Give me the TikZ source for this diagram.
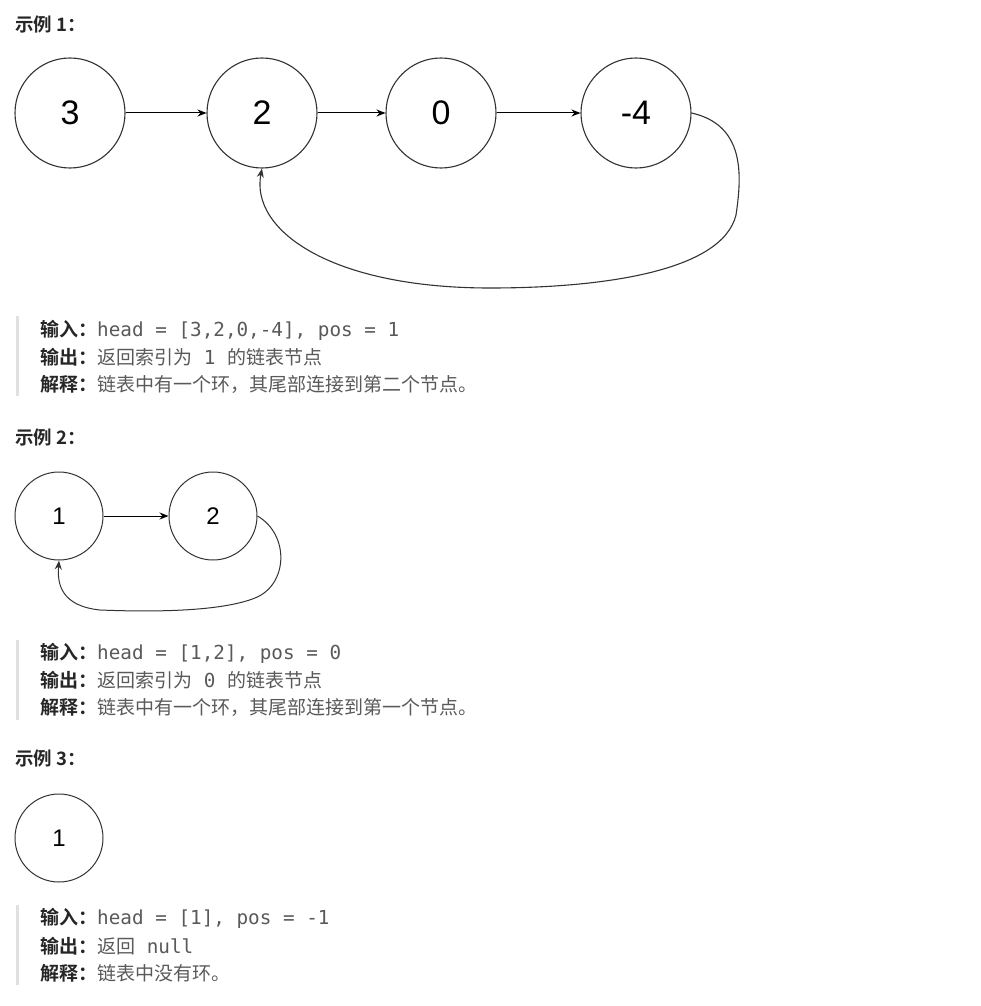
\documentclass[tikz,border=0pt]{standalone}
\usepackage{fontspec}
\setmainfont{Liberation Sans}
\newfontfamily\cjk{Noto Sans CJK SC}
\newfontfamily\cjkb{Noto Sans CJK SC Bold}
\newfontfamily\mono{DejaVu Sans Mono}
\usetikzlibrary{arrows.meta}
\definecolor{txt}{HTML}{595959}
\definecolor{lbl}{HTML}{262626}
\definecolor{bar}{HTML}{E0E0E0}
\definecolor{ln}{HTML}{333333}
\begin{document}
\begin{tikzpicture}[x=1pt,y=-1pt,
  big/.style={circle,draw=ln,line width=1.1pt,minimum size=110pt,inner sep=0pt,font=\fontsize{34}{36}\selectfont},
  small/.style={circle,draw=ln,line width=1pt,minimum size=88pt,inner sep=0pt,font=\fontsize{24}{26}\selectfont},
  arr/.style={-{Stealth[length=9pt,width=7pt]},line width=1pt,draw=black},
  head/.style={anchor=west,inner sep=0pt,font=\cjkb\fontsize{18.5}{20}\selectfont,text=lbl},
  body/.style={anchor=west,inner sep=0pt,text=txt,font=\fontsize{19}{21}\selectfont}]
\useasboundingbox (0,0) rectangle (980,1006);
\newcommand{\lbl}[1]{{\cjkb\color{lbl}#1}}
\newcommand{\mn}[1]{{\mono\fontsize{19.3}{21}\selectfont #1}}
% example 1
\node[head] (h1) at (15,24) {示例 1：};
\node[big] (a) at (70,113) {3};
\node[big] (b) at (262,113) {2};
\node[big] (c) at (441,113) {0};
\node[big] (d) at (636,113) {-4};
\draw[arr] (a) -- (b);
\draw[arr] (b) -- (c);
\draw[arr] (c) -- (d);
\draw[arr,line width=1.1pt,draw=ln] (d.east) .. controls (745,125) and (742,175) .. (736,215)
  .. controls (722,272) and (600,288) .. (490,288)
  .. controls (330,288) and (250,230) .. (b.south);
\fill[bar] (16,316) rectangle (19,396);
\node[body] (t11) at (40,330) {\lbl{输入：}\mn{head = [3,2,0,-4], pos = 1}};
\node[body] (t12) at (40,357) {\lbl{输出：}{\cjk 返回索引为}\mn{\ 1\ }{\cjk 的链表节点}};
\node[body] (t13) at (40,384) {\lbl{解释：}{\cjk 链表中有一个环，其尾部连接到第二个节点。}};
% example 2
\node[head] (h2) at (15,437) {示例 2：};
\node[small] (p) at (59,516) {1};
\node[small] (q) at (213,516) {2};
\draw[arr] (p) -- (q);
\draw[arr,draw=ln] (q.east) .. controls (290,535) and (288,585) .. (255,598)
  .. controls (220,612) and (150,612) .. (100,610)
  .. controls (62,606) and (57,585) .. (p.south);
\fill[bar] (16,640) rectangle (19,720);
\node[body] (t21) at (40,653) {\lbl{输入：}\mn{head = [1,2], pos = 0}};
\node[body] (t22) at (40,680) {\lbl{输出：}{\cjk 返回索引为}\mn{\ 0\ }{\cjk 的链表节点}};
\node[body] (t23) at (40,707) {\lbl{解释：}{\cjk 链表中有一个环，其尾部连接到第一个节点。}};
% example 3
\node[head] (h3) at (15,758) {示例 3：};
\node[small] (r) at (59,838) {1};
\fill[bar] (16,905) rectangle (19,985);
\node[body] (t31) at (40,918) {\lbl{输入：}\mn{head = [1], pos = -1}};
\node[body] (t32) at (40,946) {\lbl{输出：}{\cjk 返回}\mn{\ null}};
\node[body] (t33) at (40,973) {\lbl{解释：}{\cjk 链表中没有环。}};
\end{tikzpicture}
\end{document}
